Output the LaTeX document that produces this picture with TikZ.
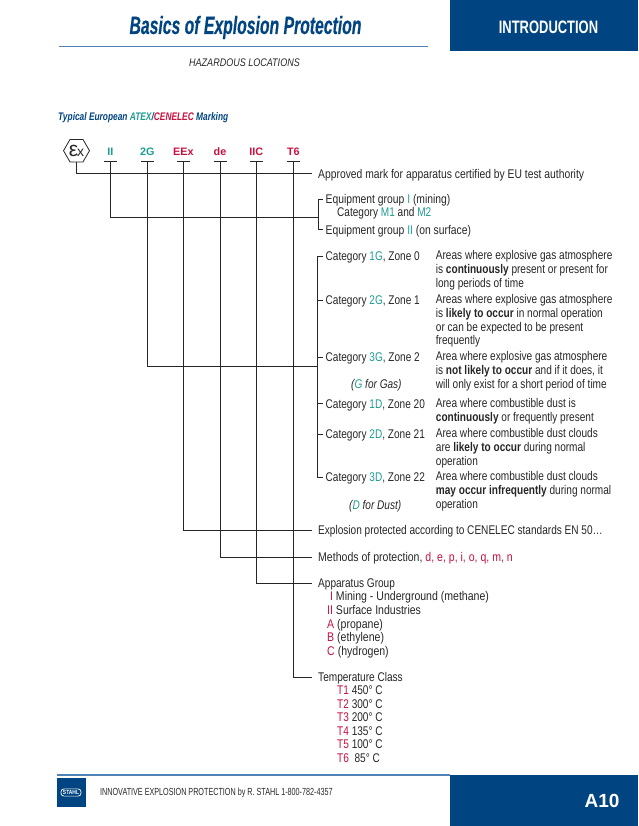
\documentclass[tikz,border=0pt]{standalone}
\usepackage{fontspec}
\usepackage{xcolor}
\usetikzlibrary{shapes.geometric}
\setmainfont[FakeStretch=0.82]{Liberation Sans}
\newfontfamily\titlefont[FakeStretch=0.63,FakeBold=0.4]{Liberation Sans}
\newfontfamily\bannerfont[FakeStretch=0.72]{Liberation Sans}
\newfontfamily\subfont[FakeStretch=0.76]{Liberation Sans}
\newfontfamily\footfont[FakeStretch=0.70]{Liberation Sans}
\newfontfamily\bodyfont[FakeStretch=0.80]{Liberation Sans}
\newfontfamily\widefont[FakeStretch=0.837]{Liberation Sans}
\newfontfamily\markfont{Liberation Sans}
\definecolor{navy}{HTML}{004481}
\definecolor{rulebl}{HTML}{4F83B8}
\definecolor{tealc}{HTML}{1E9C92}
\definecolor{redc}{HTML}{C8103E}
\definecolor{inkc}{HTML}{262626}
\newcommand{\tl}[1]{\textcolor{tealc}{#1}}
\newcommand{\rd}[1]{\textcolor{redc}{#1}}
\tikzset{
  rule/.style={inkc,line width=0.9pt},
  line/.style={anchor=west,inner xsep=0pt,inner ysep=0pt,text height=10.5pt,text depth=1pt,text=inkc,font=\fontsize{12.6}{13.6}\selectfont},
  head/.style={line,inner xsep=6pt},
  cat/.style={line,inner xsep=2.5pt,font=\bodyfont\fontsize{12.6}{13.6}\selectfont},
  block/.style={anchor=north west,inner sep=0pt,align=left,text=inkc,font=\bodyfont\fontsize{12.6}{13.6}\selectfont}
}
\begin{document}
\begin{tikzpicture}[x=1pt,y=-1pt]
\useasboundingbox (0,0) rectangle (638,826);
% page head and foot
\fill[navy] (450,0) rectangle (638,51);
\fill[navy] (450,775) rectangle (638,826);
\draw[rulebl,line width=1.4pt] (59,46.7) -- (428,46.7);
\draw[rulebl,line width=1.4pt] (56.5,775) -- (450,775);
\node[navy,font=\titlefont\fontsize{25}{28}\selectfont\bfseries\itshape] (title) at (245.5,27.5) {Basics of Explosion Protection};
\node[white,font=\bannerfont\fontsize{18}{20}\selectfont\bfseries] (intro) at (548.5,27.5) {INTRODUCTION};
\node[inkc,font=\fontsize{11}{14}\selectfont\itshape] (hazard) at (244.5,63) {HAZARDOUS LOCATIONS};
\node[white,font=\markfont\fontsize{19}{20}\selectfont\bfseries] (pageno) at (602,800.5) {A10};
\node[fill=navy,minimum width=29pt,minimum height=29pt,inner sep=0pt] (logo) at (71,792.5) {};
\node[draw=white,line width=0.7pt,rounded corners=3pt,inner xsep=2pt,inner ysep=1.5pt,text=white,font=\fontsize{6}{7}\selectfont\bfseries] (stahl) at (logo) {STAHL};
\node[inkc,anchor=west,inner sep=0pt,font=\footfont\fontsize{10.3}{12}\selectfont] (foot) at (100,792.5) {INNOVATIVE EXPLOSION PROTECTION by R. STAHL 1-800-782-4357};
\node[anchor=west,inner sep=0pt,navy,font=\subfont\fontsize{11}{13}\selectfont\bfseries\itshape] (subhead) at (58,117.5) {Typical European \tl{ATEX}/\rd{CENELEC} Marking};
% marking row
\node[draw=inkc,line width=0.8pt,regular polygon,regular polygon sides=6,minimum size=26pt,inner sep=0pt,text=inkc,font=\markfont\fontsize{14}{14}\selectfont] (exmark) at (76.5,150.7) {\raisebox{0.5pt}{\fontsize{21}{21}\selectfont\char"03B5}\kern-1pt x};
\foreach \name/\lab/\col/\xx in {ii/II/tealc/110.3,gg/2G/tealc/147.3,eex/EEx/redc/183.3,de/de/redc/220,iic/IIC/redc/256.3,tsix/T6/redc/293.3}{
  \node[text=\col,font=\markfont\fontsize{10.8}{12}\selectfont\bfseries] (\name) at (\xx,151.5) {\lab};
  \coordinate (\name bar) at (\xx,161.7);
  \draw[rule] ([xshift=-6.5pt]\name bar) -- ([xshift=6.5pt]\name bar);
}
% right hand texts
\node[head] (approved) at (312,173.5) {Approved mark for apparatus certified by EU test authority};
\node[cat,font=\fontsize{12.6}{13.6}\selectfont] (eqone) at (323,199) {Equipment group \tl{I} (mining)};
\node[block] (eqcat) at (337,207.5) {Category \tl{M1} and \tl{M2}};
\node[cat,font=\fontsize{12.6}{13.6}\selectfont] (eqtwo) at (323,229.5) {Equipment group \tl{II} (on surface)};
\node[cat] (catoneg) at (323,256) {Category \tl{1G}, Zone 0};
\node[cat] (cattwog) at (323,300) {Category \tl{2G}, Zone 1};
\node[cat] (catthreeg) at (323,357) {Category \tl{3G}, Zone 2};
\node[cat] (catoned) at (323,403.7) {Category \tl{1D}, Zone 20};
\node[cat] (cattwod) at (323,434) {Category \tl{2D}, Zone 21};
\node[cat] (catthreed) at (323,477) {Category \tl{3D}, Zone 22};
\node[line,font=\bodyfont\fontsize{12.6}{13.6}\selectfont\itshape] (forgas) at (351,384) {(\tl{G} for Gas)};
\node[line,font=\bodyfont\fontsize{12.6}{13.6}\selectfont\itshape] (fordust) at (349,505) {(\tl{D} for Dust)};
\node[block] (zoneoned) at (435.7,250.5) {Areas where explosive gas atmosphere\\is \textbf{continuously} present or present for\\long periods of time};
\node[block] (zonetwod) at (435.7,294.5) {Areas where explosive gas atmosphere\\is \textbf{likely to occur} in normal operation\\or can be expected to be present\\frequently};
\node[block] (zonethreed) at (435.7,351.5) {Area where explosive gas atmosphere\\is \textbf{not likely to occur} and if it does, it\\will only exist for a short period of time};
\node[block] (zonefour) at (435.7,398.2) {Area where combustible dust is\\\textbf{continuously} or frequently present};
\node[block] (zonefive) at (435.7,428.5) {Area where combustible dust clouds\\are \textbf{likely to occur} during normal\\operation};
\node[block] (zonesix) at (435.7,471.5) {Area where combustible dust clouds\\\textbf{may occur infrequently} during normal\\operation};
\node[head,font=\bodyfont\fontsize{12.6}{13.6}\selectfont] (cenelec) at (312,530) {Explosion protected according to CENELEC standards EN 50\dots};
\node[head,font=\widefont\fontsize{12.6}{13.6}\selectfont] (methods) at (312,557) {Methods of protection, \rd{d, e, p, i, o, q, m, n}};
\node[head,font=\bodyfont\fontsize{12.6}{13.6}\selectfont] (appgroup) at (312,583) {Apparatus Group};
\node[block,font=\widefont\fontsize{12.6}{13.6}\selectfont] (appitems) at (327,591.5) {\rd{\ I} Mining - Underground (methane)\\\rd{II} Surface Industries\\\rd{A} (propane)\\\rd{B} (ethylene)\\\rd{C} (hydrogen)};
\node[head,font=\bodyfont\fontsize{12.6}{13.6}\selectfont] (tempclass) at (312,677) {Temperature Class};
\node[block] (tempitems) at (337,685.5) {\rd{T1} 450° C\\\rd{T2} 300° C\\\rd{T3} 200° C\\\rd{T4} 135° C\\\rd{T5} 100° C\\\rd{T6}\ \ 85° C};
% connectors
\coordinate (eqspine) at (318.3,217.3);
\coordinate (catspine) at (317.5,366.7);
\draw[rule] (exmark.south) -- (exmark.south |- approved.west) -- (approved.west);
\draw[rule] (iibar) |- (eqspine);
\draw[rule] (eqone.west) -| (eqspine) |- (eqtwo.west);
\draw[rule] (ggbar) |- (catspine);
\draw[rule] (catoneg.west) -| (catspine) |- (catthreed.west);
\foreach \name in {cattwog,catthreeg,catoned,cattwod}
  \draw[rule] (\name.west) -- (\name.west -| catspine);
\draw[rule] (eexbar) |- (cenelec.west);
\draw[rule] (debar) |- (methods.west);
\draw[rule] (iicbar) |- (appgroup.west);
\draw[rule] (tsixbar) |- (tempclass.west);
\end{tikzpicture}
\end{document}
